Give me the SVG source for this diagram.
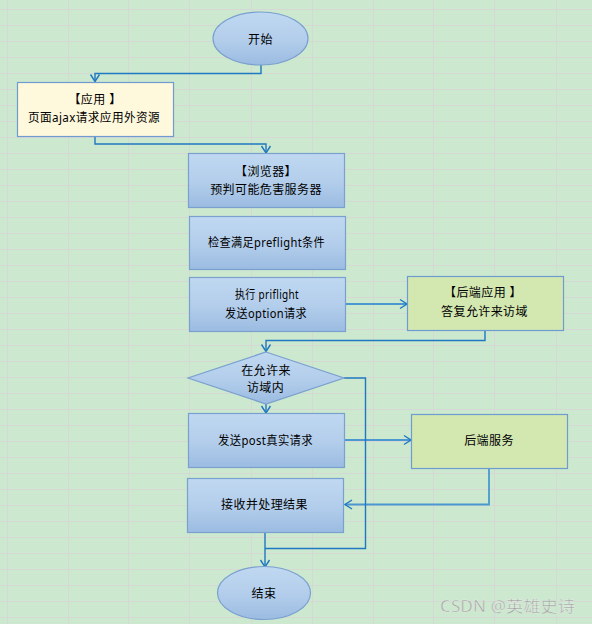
<svg xmlns="http://www.w3.org/2000/svg" width="592" height="624" viewBox="0 0 592 624">
<defs>
<linearGradient id="blue" x1="0" y1="0" x2="0" y2="1">
<stop offset="0" stop-color="#c0d8f1"/>
<stop offset="0.55" stop-color="#b2cdeb"/>
<stop offset="1" stop-color="#9bbbe1"/>
</linearGradient>
<marker id="arr" markerUnits="userSpaceOnUse" markerWidth="12" markerHeight="12" viewBox="0 0 12 12" refX="10" refY="6" orient="auto">
<path d="M3,1.5 L10,6 L3,10.5" fill="none" stroke="#1f78c1" stroke-width="1.4"/>
</marker>
<style>
.bg{fill:#cce8cf}
.grid{stroke:#d5d8d5;stroke-width:1;fill:none}
.box{fill:url(#blue);stroke:#7aa0cf;stroke-width:1.2}
.app{fill:#fef8dc;stroke:#6e9cd0;stroke-width:1.2}
.be{fill:#d3e7b1;stroke:#6e9cd0;stroke-width:1.2}
.t{font-family:"Noto Sans","Noto Sans CJK SC",sans-serif;font-size:12px;letter-spacing:0.4px;fill:#000;text-anchor:middle}
.c{fill:none;stroke:#1f78c1;stroke-width:1.4}
.c2{fill:none;stroke:#4a98cf;stroke-width:1.8}
.wm{font-family:"Noto Sans","Noto Sans CJK SC",sans-serif;font-size:16px;fill:#a0a0a0;stroke:#e8f3e8;stroke-width:0.4}
</style>
</defs>
<rect class="bg" x="0" y="0" width="592" height="624"/>
<path class="grid" d="M7.5 0V624M68.5 0V624M128.5 0V624M189.5 0V624M251.5 0V624M312.5 0V624M373.5 0V624M433.5 0V624M494.5 0V624M556.5 0V624
M0 9.5H592M0 25.5H592M0 41.5H592M0 57.5H592M0 73.5H592M0 89.5H592M0 105.5H592M0 121.5H592M0 137.5H592M0 153.5H592
M0 169.5H592M0 185.5H592M0 201.5H592M0 217.5H592M0 233.5H592M0 249.5H592M0 265.5H592M0 281.5H592M0 297.5H592M0 313.5H592
M0 329.5H592M0 345.5H592M0 361.5H592M0 377.5H592M0 393.5H592M0 409.5H592M0 425.5H592M0 441.5H592M0 457.5H592M0 473.5H592
M0 489.5H592M0 505.5H592M0 521.5H592M0 537.5H592M0 553.5H592M0 569.5H592M0 585.5H592M0 601.5H592M0 617.5H592"/>

<g id="connectors">
<path class="c" d="M261,65 V73.5 H95 V81.5" marker-end="url(#arr)"/>
<path class="c" d="M95,136 V144 H266 V153" marker-end="url(#arr)"/>
<path class="c2" d="M345,304 H407" marker-end="url(#arr)"/>
<path class="c" d="M485,330 V340.5 H266 V351.5" marker-end="url(#arr)"/>
<path class="c" d="M266,404 V413" marker-end="url(#arr)"/>
<path class="c2" d="M344,440 H411" marker-end="url(#arr)"/>
<path class="c2" d="M489,468 V504.5 H345" marker-end="url(#arr)"/>
<path class="c" d="M344,378 H365.5 V548.5 H265"/>
<path class="c" d="M265,532 V567" marker-end="url(#arr)"/>
</g>

<g id="start">
<ellipse class="box" cx="260.5" cy="38.5" rx="47.5" ry="26.5"/>
<text class="t" x="260.5" y="43.5">开始</text>
</g>
<g id="app">
<rect class="app" x="17.5" y="82.5" width="156" height="54"/>
<text class="t" x="95" y="104">【应用 】</text>
<text class="t" x="94" y="122" textLength="132" lengthAdjust="spacingAndGlyphs">页面ajax请求应用外资源</text>
</g>
<g id="browser">
<rect class="box" x="188.5" y="153.5" width="156" height="54"/>
<text class="t" x="266" y="176">【浏览器】</text>
<text class="t" x="266" y="194">预判可能危害服务器</text>
</g>
<g id="preflight">
<rect class="box" x="189.5" y="216.5" width="156" height="53"/>
<text class="t" x="266.5" y="247" textLength="117" lengthAdjust="spacingAndGlyphs">检查满足preflight条件</text>
</g>
<g id="execute">
<rect class="box" x="189.5" y="277.5" width="156" height="54"/>
<text class="t" x="267" y="299" textLength="64" lengthAdjust="spacingAndGlyphs">执行 priflight</text>
<text class="t" x="266" y="317.5" textLength="82" lengthAdjust="spacingAndGlyphs">发送option请求</text>
</g>
<g id="backend-app">
<rect class="be" x="407.5" y="276.5" width="156" height="54"/>
<text class="t" x="483" y="297">【后端应用 】</text>
<text class="t" x="484.5" y="316">答复允许来访域</text>
</g>
<g id="decision">
<polygon class="box" points="266,352 344,378 266,404 188,378"/>
<text class="t" x="266" y="375">在允许来</text>
<text class="t" x="265.5" y="392">访域内</text>
</g>
<g id="post">
<rect class="box" x="188.5" y="413.5" width="156" height="54"/>
<text class="t" x="265.5" y="444.5" textLength="95" lengthAdjust="spacingAndGlyphs">发送post真实请求</text>
</g>
<g id="backend-service">
<rect class="be" x="411.5" y="414.5" width="156" height="54"/>
<text class="t" x="489" y="445">后端服务</text>
</g>
<g id="receive">
<rect class="box" x="187.5" y="478.5" width="156" height="54"/>
<text class="t" x="264.5" y="508.5">接收并处理结果</text>
</g>
<g id="end">
<ellipse class="box" cx="264" cy="593" rx="46.5" ry="26.5"/>
<text class="t" x="264" y="597.5">结束</text>
</g>
<text class="wm" x="440" y="611.5" textLength="135" lengthAdjust="spacingAndGlyphs">CSDN @英雄史诗</text>
</svg>
